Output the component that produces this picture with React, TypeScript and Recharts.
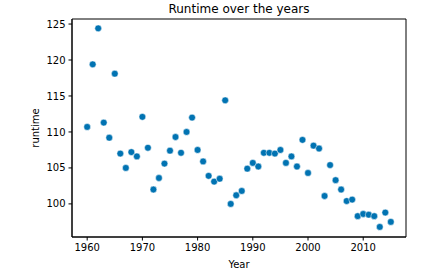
import { ScatterChart, Scatter, XAxis, YAxis, ReferenceArea } from "recharts";

const years = [
  1960, 1961, 1962, 1963, 1964, 1965, 1966, 1967, 1968, 1969,
  1970, 1971, 1972, 1973, 1974, 1975, 1976, 1977, 1978, 1979,
  1980, 1981, 1982, 1983, 1984, 1985, 1986, 1987, 1988, 1989,
  1990, 1991, 1992, 1993, 1994, 1995, 1996, 1997, 1998, 1999,
  2000, 2001, 2002, 2003, 2004, 2005, 2006, 2007, 2008, 2009,
  2010, 2011, 2012, 2013, 2014, 2015,
];

const runtimes = [
  110.7, 119.4, 124.4, 111.3, 109.2, 118.1, 107.0, 105.0, 107.2, 106.6,
  112.1, 107.8, 102.0, 103.6, 105.6, 107.4, 109.3, 107.1, 110.0, 112.0,
  107.5, 105.9, 103.9, 103.1, 103.5, 114.4, 100.0, 101.2, 101.8, 104.9,
  105.7, 105.2, 107.1, 107.1, 107.0, 107.5, 105.7, 106.6, 105.2, 108.9,
  104.3, 108.1, 107.7, 101.1, 105.4, 103.3, 102.0, 100.4, 100.6, 98.3,
  98.6, 98.5, 98.3, 96.8, 98.8, 97.5,
];

const xTicks = [1960, 1970, 1980, 1990, 2000, 2010];
const yTicks = [100, 105, 110, 115, 120, 125];

const data = years.map((year, i) => ({ year, runtime: runtimes[i] }));

const X_DOMAIN: [number, number] = [1957.25, 2017.75];
const Y_DOMAIN: [number, number] = [95.4, 125.7];

const font = "DejaVu Sans, sans-serif";
const tickStyle = { fontSize: 10, fill: "#000", fontFamily: font };

const Dot = (props: any) => (
  <circle
    cx={props.cx}
    cy={props.cy}
    r={3.4}
    fill="#0173b2"
    stroke="#fff"
    strokeWidth={0.5}
  />
);

export default function App() {
  return (
    <div
      style={{
        position: "absolute",
        left: 0,
        top: 0,
        width: 434,
        height: 276,
        background: "#fff",
      }}
    >
      <div
        style={{
          position: "absolute",
          left: 72,
          width: 334,
          top: 3,
          textAlign: "center",
          fontFamily: font,
          fontSize: 12,
          lineHeight: "12px",
          color: "#000",
        }}
      >
        Runtime over the years
      </div>
      <ScatterChart
        width={434}
        height={276}
        margin={{ top: 19, right: 28, left: 0, bottom: 0 }}
      >
        <XAxis
          dataKey="year"
          type="number"
          domain={X_DOMAIN}
          ticks={xTicks}
          height={39}
          tickSize={3.5}
          tickMargin={3}
          tick={tickStyle}
          stroke="#000"
          axisLine={{ stroke: "#000", strokeWidth: 1 }}
          label={{
            value: "Year",
            position: "insideBottom",
            offset: 8,
            style: { fontSize: 10, fill: "#000", fontFamily: font },
          }}
        />
        <YAxis
          dataKey="runtime"
          type="number"
          domain={Y_DOMAIN}
          ticks={yTicks}
          width={72}
          tickSize={3.5}
          tickMargin={3}
          tick={tickStyle}
          stroke="#000"
          axisLine={{ stroke: "#000", strokeWidth: 1 }}
          label={{
            value: "runtime",
            angle: -90,
            position: "insideLeft",
            offset: 35,
            style: {
              fontSize: 10,
              fill: "#000",
              fontFamily: font,
              textAnchor: "middle",
            },
          }}
        />
        <ReferenceArea
          x1={X_DOMAIN[0]}
          x2={X_DOMAIN[1]}
          y1={Y_DOMAIN[0]}
          y2={Y_DOMAIN[1]}
          fill="none"
          fillOpacity={0}
          stroke="#000"
          strokeWidth={1}
        />
        <Scatter data={data} shape={Dot} isAnimationActive={false} />
      </ScatterChart>
    </div>
  );
}
